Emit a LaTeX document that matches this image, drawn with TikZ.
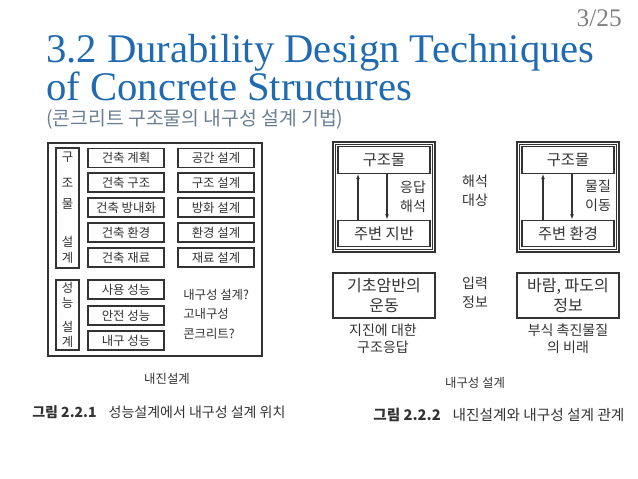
\documentclass[tikz,border=0pt]{standalone}
\usepackage{fontspec}
\setmainfont{Liberation Serif}
\newfontfamily\kr{Noto Sans CJK KR}
\usetikzlibrary{arrows.meta,calc}
\definecolor{tblue}{HTML}{1F6AB0}
\definecolor{sgray}{HTML}{6A7F95}
\definecolor{ink}{HTML}{333333}
\begin{document}
\begin{tikzpicture}[x=0.75pt,y=-0.75pt,
  bx/.style={draw=ink,line width=0.8pt,inner sep=0pt,font=\kr\fontsize{9.3}{11}\selectfont,text=ink},
  cb/.style={bx,minimum width=57pt,minimum height=14.25pt},
  lb/.style={bx,minimum width=17.25pt},
  tx/.style={font=\kr\fontsize{9.3}{11}\selectfont,text=ink,inner sep=0pt},
  rb/.style={bx,font=\kr\fontsize{11.5}{13}\selectfont,minimum width=69pt,minimum height=20pt},
  rt/.style={tx,font=\kr\fontsize{10.5}{12.5}\selectfont,align=center},
  ar/.style={draw=ink,line width=0.8pt,-{Latex[length=4pt,width=3pt]}}]
\useasboundingbox (0,0) rectangle (638,478);
% title
\node[anchor=base east,text=gray,inner sep=0pt,font=\fontsize{19}{19}\selectfont] (pg) at (622,27) {3/25};
\node[anchor=base west,text=tblue,inner sep=0pt,font=\fontsize{30.5}{31}\selectfont] (t1) at (46,63) {3.2 Durability Design Techniques};
\node[anchor=base west,text=tblue,inner sep=0pt,font=\fontsize{30.5}{31}\selectfont] (t2) at (46,100) {of Concrete Structures};
\node[anchor=base west,text=sgray,inner sep=0pt,font=\kr\fontsize{14.5}{16}\selectfont] (t3) at (46,125) {(콘크리트 구조물의 내구성 설계 기법)};
% left figure
\node[bx,minimum width=160.5pt,minimum height=159.75pt] (outer) at (155,249.5) {};
\node[lb,minimum height=90pt] (lab1) at (67.5,208) {};
\foreach \t/\y [count=\i] in {구/157,조/183,물/204,설/242,계/258}
  \node[tx] (l1\i) at (67.5,\y) {\t};
\node[lb,minimum height=52.5pt] (lab2) at (67.5,315) {};
\foreach \t/\y [count=\i] in {성/288,능/303,설/327,계/342}
  \node[tx] (l2\i) at (67.5,\y) {\t};
\foreach \a/\b/\y [count=\i] in {건축 계획/공간 설계/158,건축 구조/구조 설계/182.5,건축 방내화/방화 설계/207.5,건축 환경/환경 설계/232.5,건축 재료/재료 설계/257.5}{
  \node[cb] (a\i) at (126,\y) {\a};
  \node[cb] (b\i) at (216,\y) {\b};}
\foreach \a/\y [count=\i] in {사용 성능/289.5,안전 성능/315.5,내구 성능/340.5}
  \node[cb] (c\i) at (126,\y) {\a};
\node[tx,anchor=west] (q1) at (183,295) {내구성 설계?};
\node[tx,anchor=west] (q2) at (183,314) {고내구성};
\node[tx,anchor=west] (q3) at (183,334) {콘크리트?};
\node[tx] (cap1a) at (167,379) {내진설계};
\node[tx,anchor=west,font=\kr\fontsize{10.5}{12}\selectfont] (cap1) at (32,412) {\textbf{그림 2.2.1}\hspace{9pt}성능설계에서 내구성 설계 위치};
% right figure
\foreach \n/\x in {L/384,R/568}{
  \node[bx,minimum width=76.5pt,minimum height=82.5pt,line width=1pt] (o\n) at (\x,197) {};
  \node[bx,minimum width=72.5pt,minimum height=78.5pt] (i\n) at (\x,197) {};}
\node[rb] (topL) at (384,160) {구조물};
\node[rb] (botL) at (384,233.5) {주변 지반};
\node[rb] (topR) at (568,160) {구조물};
\node[rb] (botR) at (568,233.5) {주변 환경};
\draw[ar] ($(botL.north)+(-26,0)$) -- ($(topL.south)+(-26,0)$);
\draw[ar] ($(topL.south)+(3,0)$) -- ($(botL.north)+(3,0)$);
\draw[ar] ($(botR.north)+(-25,0)$) -- ($(topR.south)+(-25,0)$);
\draw[ar] ($(topR.south)+(4,0)$) -- ($(botR.north)+(4,0)$);
\node[rt] (s1) at (413,197) {응답\\[2pt]해석};
\node[rt] (s2) at (598,196) {물질\\[2pt]이동};
\node[rt] (m1) at (475,191) {해석\\[2pt]대상};
\node[rt] (m2) at (475,293) {입력\\[2pt]정보};
\node[rb,minimum width=76.5pt,minimum height=33.75pt,align=center,font=\kr\fontsize{12}{15}\selectfont] (eL) at (384,295.5) {기초암반의\\운동};
\node[rb,minimum width=76.5pt,minimum height=33.75pt,align=center,font=\kr\fontsize{12}{15}\selectfont] (eR) at (568,295.5) {바람, 파도의\\정보};
\node[rt] (uL) at (383,338.5) {지진에 대한\\구조응답};
\node[rt] (uR) at (568,338.5) {부식 촉진물질\\의 비래};
\node[tx] (cap2a) at (475,383) {내구성 설계};
\node[tx,anchor=west,font=\kr\fontsize{11}{12}\selectfont] (cap2) at (373,415) {\textbf{그림 2.2.2}\hspace{9pt}내진설계와 내구성 설계 관계};
\end{tikzpicture}
\end{document}
